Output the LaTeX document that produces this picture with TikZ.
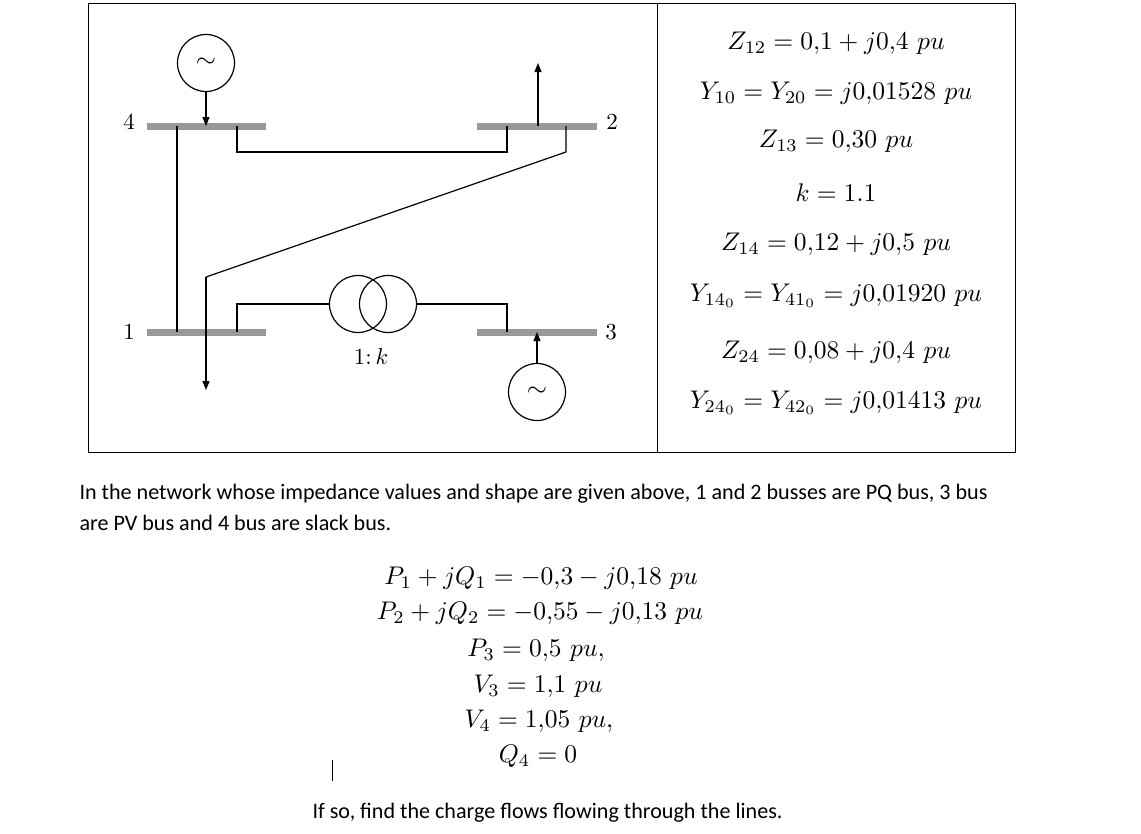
\documentclass[tikz,border=0pt]{standalone}
\usepackage{fontspec}
\setsansfont{Carlito}
\usetikzlibrary{arrows.meta}
\begin{document}
\begin{tikzpicture}[x=1pt,y=-1pt,
  bus/.style={draw=gray!80,line width=7pt},
  wire/.style={draw=black,line width=1.2pt},
  arr/.style={wire,-{Triangle[length=9pt,width=7pt]}},
  gen/.style={draw,line width=1.2pt,circle,minimum size=57pt,inner sep=0pt},
  lbl/.style={scale=2.3},
  eq/.style={scale=2.55},
  txt/.style={font=\sffamily\fontsize{22.1}{26}\selectfont,anchor=west}]
\useasboundingbox (0,0) rectangle (1141,833);
\fill[white] (0,0) rectangle (1141,833);
\draw[line width=0.9pt] (88,3) rectangle (1015,452);
\draw[line width=0.9pt] (657,3) -- (657,452);
% buses
\draw[bus] (147,126) -- (266,126);
\draw[bus] (477,126) -- (597,126);
\draw[bus] (147,332) -- (266,332);
\draw[bus] (477,332) -- (597,332);
\node[lbl] (n4) at (129,122) {4};
\node[lbl] (n2) at (612,122) {2};
\node[lbl] (n1) at (129,332) {1};
\node[lbl] (n3) at (611,332) {3};
% generators
\node[gen] (g4) at (206,63) {};
\node[scale=2.6] (s4) at (g4) {$\sim$};
\node[gen] (g3) at (537,392) {};
\node[scale=2.6] (s3) at (g3) {$\sim$};
\coordinate (g4b) at (206,126);
\coordinate (g3t) at (537,332);
\draw[arr] (g4.south) -- (g4b);
\draw[arr] (g3.north) -- (g3t);
% lines
\draw[wire] (177,126) -- (177,332);
\draw[wire] (237,126) -- (237,152) -- (507,152) -- (507,126);
\coordinate (d1) at (206,277);
\draw[wire] (566,126) -- (566,152) -- (d1);
\coordinate (ld1) at (206,390);
\draw[arr] (d1) -- (ld1);
\coordinate (ld2) at (538,63);
\draw[arr] (538,126) -- (ld2);
% transformer
\node[draw,circle,line width=1.2pt,minimum size=57pt,inner sep=0pt] (t1) at (358,304) {};
\node[draw,circle,line width=1.2pt,minimum size=57pt,inner sep=0pt] (t2) at (388,304) {};
\draw[wire] (237,332) -- (237,304) -- (t1.west);
\draw[wire] (t2.east) -- (507,304) -- (507,332);
\node[lbl] (k) at (371,357) {$1{:}\,k$};
% parameters
\node[eq] (e1) at (836,43) {$Z_{12}=0{,}1+j0{,}4\ pu$};
\node[eq] (e2) at (836,93) {$Y_{10}=Y_{20}=j0{,}01528\ pu$};
\node[eq] (e3) at (836,141) {$Z_{13}=0{,}30\ pu$};
\node[eq] (e4) at (836,193) {$k=1.1$};
\node[eq] (e5) at (836,244) {$Z_{14}=0{,}12+j0{,}5\ pu$};
\node[eq] (e6) at (836,296) {$Y_{14_0}=Y_{41_0}=j0{,}01920\ pu$};
\node[eq] (e7) at (836,352) {$Z_{24}=0{,}08+j0{,}4\ pu$};
\node[eq] (e8) at (836,403) {$Y_{24_0}=Y_{42_0}=j0{,}01413\ pu$};
% text
\node[txt] (p1) at (76,494) {In the network whose impedance values and shape are given above, 1 and 2 busses are PQ bus, 3 bus};
\node[txt] (p2) at (76,523) {are PV bus and 4 bus are slack bus.};
\node[eq] (q1) at (541,578) {$P_1+jQ_1=-0{,}3-j0{,}18\ pu$};
\node[eq] (q2) at (540,613) {$P_2+jQ_2=-0{,}55-j0{,}13\ pu$};
\node[eq] (q3) at (536,650) {$P_3=0{,}5\ pu,$};
\node[eq] (q4) at (538,686) {$V_3=1{,}1\ pu$};
\node[eq] (q5) at (539,721) {$V_4=1{,}05\ pu,$};
\node[eq] (q6) at (538,756) {$Q_4=0$};
\draw[line width=0.8pt] (332,760) -- (332,781);
\node[txt] (p3) at (309,813) {If so, find the charge flows flowing through the lines.};
\end{tikzpicture}
\end{document}
